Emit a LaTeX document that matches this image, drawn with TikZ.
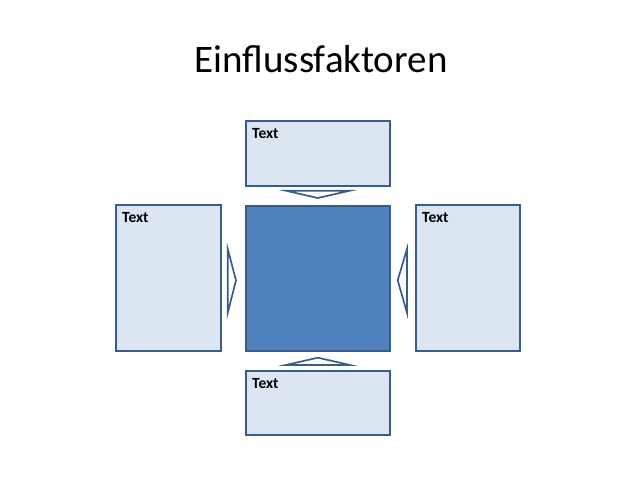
\documentclass[tikz,border=0pt]{standalone}
\usepackage{fontspec}
\setmainfont{Carlito}
\usetikzlibrary{calc}
\definecolor{darkblue}{HTML}{4F81BD}
\definecolor{edgeblue}{HTML}{385D8A}
\definecolor{lightblue}{HTML}{DCE6F2}
\tikzset{
  lightbox/.style={draw=edgeblue, fill=lightblue, line width=1.7pt, inner sep=0pt, anchor=north west},
  centerbox/.style={draw=edgeblue, fill=darkblue, line width=1.7pt, inner sep=0pt, anchor=north west},
  boxtext/.style={anchor=base west, inner sep=0pt, font=\bfseries\fontsize{15.5}{17}\selectfont},
  tri/.style={draw=edgeblue, fill=white, line width=1.7pt, line join=miter}
}
\begin{document}
\begin{tikzpicture}[x=1pt, y=-1pt]
\useasboundingbox[fill=white] (0,0) rectangle (640,480);
\node[anchor=base, font=\fontsize{39}{47}\selectfont] (title) at (321,72) {Einflussfaktoren};
% boxes
\node[centerbox, minimum width=144pt, minimum height=145pt] (c) at (245,205) {};
\node[lightbox, minimum width=144pt, minimum height=65pt] (top) at (245,120) {};
\node[lightbox, minimum width=144pt, minimum height=64pt] (bot) at (245,370) {};
\node[lightbox, minimum width=105pt, minimum height=146pt] (left) at (115,204) {};
\node[lightbox, minimum width=104pt, minimum height=146pt] (right) at (415,204) {};
% texts
\node[boxtext] (ttop) at ($(top.north west)+(7,18)$) {Text};
\node[boxtext] (tbot) at ($(bot.north west)+(7,18)$) {Text};
\node[boxtext] (tleft) at ($(left.north west)+(7,18)$) {Text};
\node[boxtext] (tright) at ($(right.north west)+(7,18)$) {Text};
% triangles
\draw[tri] ($(top.south)+(-32,4)$) -- ($(top.south)+(32,4)$) -- ($(c.north)+(0,-7)$) -- cycle;
\draw[tri] ($(bot.north)+(-32,-5)$) -- ($(bot.north)+(32,-5)$) -- ($(c.south)+(0,6)$) -- cycle;
\draw[tri] ($(left.east)+(6,-29)$) -- ($(left.east)+(6,35)$) -- ($(c.west)+(-9,2)$) -- cycle;
\draw[tri] ($(right.west)+(-8,-29)$) -- ($(right.west)+(-8,35)$) -- ($(c.east)+(7,2)$) -- cycle;
\end{tikzpicture}
\end{document}
